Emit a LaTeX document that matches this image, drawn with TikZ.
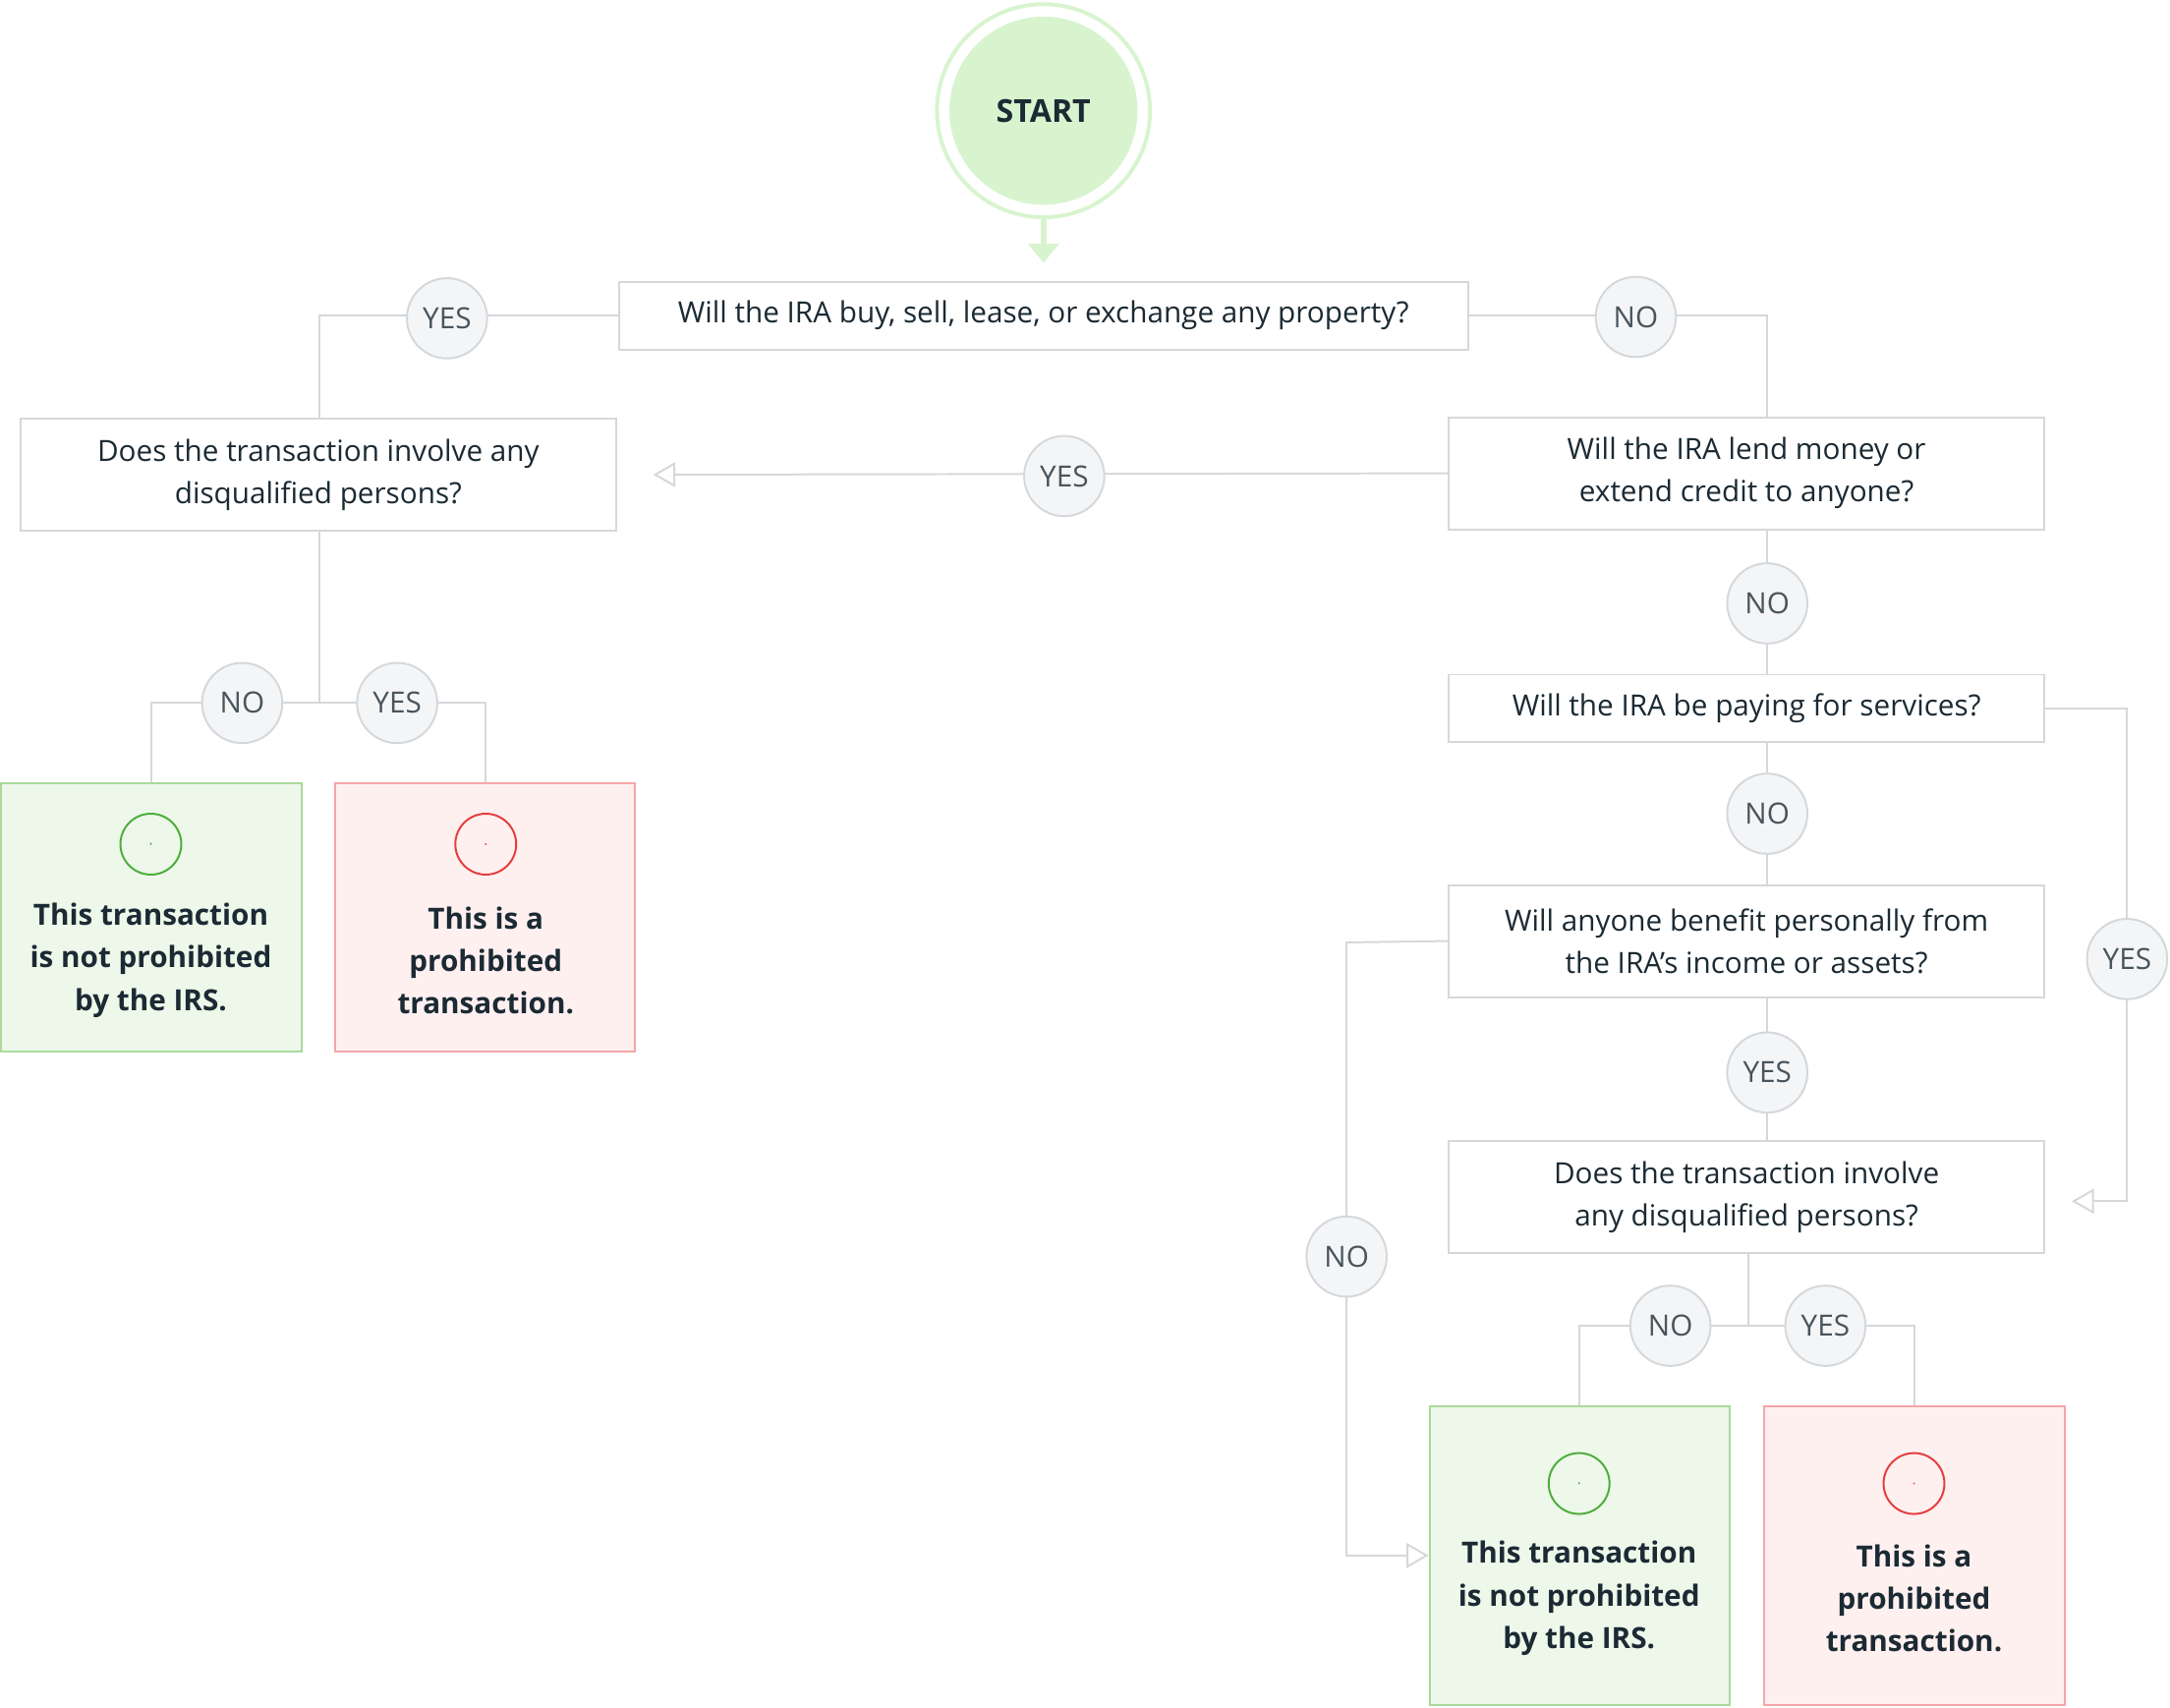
\documentclass[tikz,border=0pt]{standalone}
\usepackage{fontspec}
\setmainfont{Open Sans}
\usetikzlibrary{arrows.meta}
\definecolor{line}{HTML}{D5D8DB}
\definecolor{lblfill}{HTML}{F4F5F7}
\definecolor{txt}{HTML}{1B2A33}
\definecolor{okfill}{HTML}{EEF8EA}
\definecolor{okdraw}{HTML}{A9DA9B}
\definecolor{okmark}{HTML}{4DAE3C}
\definecolor{nofill}{HTML}{FFF0F0}
\definecolor{nodraw}{HTML}{F4A6A6}
\definecolor{nomark}{HTML}{E53E3E}
\definecolor{startfill}{HTML}{D8F4CF}
\tikzset{
  question/.style={draw=line, line width=0.8pt, fill=white, align=center, text=txt,
    minimum width=8.6cm, minimum height=1.62cm, font=\fontsize{12}{17.5}\selectfont},
  answer/.style={circle, draw=line, line width=0.8pt, fill=lblfill, text=txt!80,
    minimum size=1.16cm, inner sep=0pt, font=\fontsize{12}{14}\selectfont},
  okbox/.style={draw=okdraw, line width=0.8pt, fill=okfill, minimum width=4.34cm},
  badbox/.style={draw=nodraw, line width=0.8pt, fill=nofill, minimum width=4.34cm},
  result/.style={align=center, text=txt, font=\fontsize{12}{17.5}\selectfont\bfseries},
  flow/.style={draw=line, line width=0.8pt},
  into/.style={flow, -{Triangle[open, length=0.32cm, width=0.36cm]}},
}
\newcommand{\okmark}[1]{%
  \draw[okmark, line width=0.8pt] (#1) circle (0.44cm);
  \draw[okmark, line width=0.8pt] ($(#1)+(-0.2,0)$) -- ++(0.14,-0.14) -- ++(0.28,0.3);}
\newcommand{\badmark}[1]{%
  \draw[nomark, line width=0.8pt] (#1) circle (0.44cm);
  \draw[nomark, line width=0.8pt] ($(#1)+(-0.15,-0.15)$) -- ++(0.3,0.3)
    ($(#1)+(-0.15,0.15)$) -- ++(0.3,-0.3);}
\usetikzlibrary{calc}
\begin{document}
\begin{tikzpicture}[x=0.02cm, y=-0.02cm]
\useasboundingbox (0,0) rectangle (1568,1234);
% start
\node[circle, draw=startfill, line width=1.6pt, minimum size=3.08cm] (ring) at (754,80) {};
\node[circle, fill=startfill, minimum size=2.72cm, text=txt, font=\fontsize{13}{15}\selectfont\bfseries] (start) at (754,80) {START};
\coordinate (arr) at (754,190);
\draw[draw=startfill, line width=2.5pt, -{Triangle[length=0.28cm, width=0.44cm]}] (ring.south) -- (arr);
% questions
\node[question, minimum width=12.28cm, minimum height=0.98cm] (q1) at (754,228) {Will the IRA buy, sell, lease, or exchange any property?};
\node[question] (q2) at (230,343) {Does the transaction involve any\\disqualified persons?};
\node[question] (q3) at (1262,342) {Will the IRA lend money or\\extend credit to anyone?};
\node[question, minimum height=0.98cm] (q4) at (1262,512) {Will the IRA be paying for services?};
\node[question] (q5) at (1262,680) {Will anyone benefit personally from\\the IRA’s income or assets?};
\node[question] (q6) at (1262,865) {Does the transaction involve\\any disqualified persons?};
% results
\node[okbox, minimum height=3.88cm] (g1) at (109.5,663) {};
\node[badbox, minimum height=3.88cm] (r1) at (350.5,663) {};
\node[okbox, minimum height=4.32cm] (g2) at (1141.5,1124) {};
\node[badbox, minimum height=4.32cm] (r2) at (1383.5,1124) {};
\okmark{109,610}
\badmark{351,610}
\okmark{1141,1072}
\badmark{1383,1072}
\node[result] (g1t) at (109,694) {This transaction\\is not prohibited\\by the IRS.};
\node[result] (r1t) at (351,694) {This is a\\prohibited\\transaction.};
\node[result] (g2t) at (1141,1155) {This transaction\\is not prohibited\\by the IRS.};
\node[result] (r2t) at (1383,1155) {This is a\\prohibited\\transaction.};
% connectors
\draw[flow] (q1.west) -| (q2.north -| 231,0);
\draw[flow] (q1.east) -| (q3.north -| 1277,0);
\draw[into] (q3.west) -- (q2.east -| 472,0);
\coordinate (s2) at (231,508);
\draw[flow] (q2.south -| s2) -- (s2);
\draw[flow] (s2) -| (g1.north);
\draw[flow] (s2) -| (r1.north);
\draw[flow] (q3.south -| 1277,0) -- (q4.north -| 1277,0);
\draw[flow] (q4.south -| 1277,0) -- (q5.north -| 1277,0);
\draw[flow] (q5.south -| 1277,0) -- (q6.north -| 1277,0);
\coordinate (e4) at (1537,512);
\draw[into] (q4.east) -- (e4) |- (1497,868);
\coordinate (w5) at (973,681);
\draw[into] (q5.west) -- (w5) |- (g2.west);
\coordinate (s6) at (1263,958);
\draw[flow] (q6.south -| s6) -- (s6);
\draw[flow] (s6) -| (g2.north);
\draw[flow] (s6) -| (r2.north);
% answer labels
\node[answer] (a1) at (323,230) {YES};
\node[answer] (a2) at (1182,229) {NO};
\node[answer] (a3) at (769,344) {YES};
\node[answer] (a4) at (175,508) {NO};
\node[answer] (a5) at (287,508) {YES};
\node[answer] (a6) at (1277,436) {NO};
\node[answer] (a7) at (1277,588) {NO};
\node[answer] (a8) at (1277,775) {YES};
\node[answer] (a9) at (1537,693) {YES};
\node[answer] (a10) at (973,908) {NO};
\node[answer] (a11) at (1207,958) {NO};
\node[answer] (a12) at (1319,958) {YES};
\end{tikzpicture}
\end{document}
